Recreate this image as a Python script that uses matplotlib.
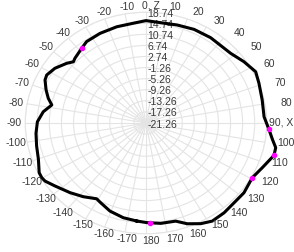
import numpy as np
import matplotlib
matplotlib.use("Agg")
import matplotlib.pyplot as plt
from matplotlib import transforms

# pattern data: angle (deg, clockwise from Z) and radius value
angles_deg = [-175.0, -167.6, -159.4, -151.9, -149.2, -142.0, -135.0, -127.0, -122.1,
              -119.8, -116.9, -110.2, -102.9, -95.8, -89.3, -83.2, -78.2, -74.6,
              -70.2, -65.1, -62.2, -56.8, -50.6, -47.4, -45.2, -38.3, -33.8, -25.2,
              -15.6, -6.7, 0.0, 16.3, 25.2, 34.8, 48.1, 55.7, 63.0, 69.0, 77.8, 86.7,
              93.2, 98.0, 101.7, 105.4, 112.7, 119.3, 127.8, 133.5, 141.4, 148.2,
              153.5, 159.4, 164.5, 172.3, 179.6]
values = [14.25, 13.75, 12.7, 11.1, 10.6, 12.5, 14.3, 16.5, 18.2,
          18.5, 18.4, 16.7, 15.9, 15.35, 14.7, 13.0, 10.6, 12.3,
          13.9, 15.6, 15.9, 14.8, 12.7, 11.4, 11.9, 13.1, 14.1, 14.5,
          14.8, 15.0, 15.7, 15.6, 16.1, 16.25, 16.4, 18.0, 19.5, 18.8, 18.1, 17.9,
          19.5, 21.0, 22.6, 22.7, 20.5, 19.1, 19.8, 19.7, 20.2, 20.4,
          19.35, 17.6, 15.5, 15.3, 14.7]

marker_angles = [-38.3, 93.2, 105.4, 119.3, 178.0]
marker_values = [13.1, 19.5, 22.7, 19.1, 14.7]

r_ticks = [-21.26, -17.26, -13.26, -9.26, -5.26, -1.26, 2.74, 6.74, 10.74, 14.74, 18.74]
r_tick_labels = ["-21.26", "-17.26", "-13.26", "-9.26", "-5.26", "-1.26",
                 "2.74", "6.74", "10.74", "14.74", "18.74"]
theta_ticks = list(range(0, 360, 10))
theta_labels = ["0, Z", "10", "20", "30", "40", "50", "60", "70", "80", "90, X",
                "100", "110", "120", "130", "140", "150", "160", "170", "180",
                "-170", "-160", "-150", "-140", "-130", "-120", "-110", "-100", "-90",
                "-80", "-70", "-60", "-50", "-40", "-30", "-20", "-10"]

r_min, r_max = -21.26, 18.74
W, H = 294, 252
font = ["Liberation Sans", "DejaVu Sans"]
txt_col = "#3a3a3a"

fig = plt.figure(figsize=(W / 100, H / 100), dpi=100)
ax = fig.add_axes([0.0857, 0.0722, 0.8218, 0.8794], projection="polar")
ax.set_aspect("auto")
ax.set_theta_zero_location("N")
ax.set_theta_direction(-1)
ax.set_ylim(r_min, r_max)

grid_col = "#e4e4e4"
ax.set_xticks(np.deg2rad(theta_ticks))
ax.set_xticklabels([])
ax.set_yticks(r_ticks)
ax.set_yticklabels([])
ax.tick_params(length=0)
ax.grid(True, color=grid_col, linewidth=0.8)
ax.spines["polar"].set_color(grid_col)
ax.spines["polar"].set_linewidth(0.8)

# angular labels on an ellipse around the plot (figure pixels)
lab_cx, lab_cy, lab_a, lab_b = 151, 123, 137, 118
for t, lab in zip(theta_ticks, theta_labels):
    tr = np.deg2rad(t)
    px = lab_cx + lab_a * np.sin(tr)
    py = lab_cy - lab_b * np.cos(tr)
    ha = "center"
    if lab == "90, X":
        px, ha = W - 1, "right"
    fig.text(px / W, 1 - py / H, lab, ha=ha, va="center", fontsize=7.5,
             color=txt_col, family=font)

off = transforms.offset_copy(ax.transData, fig=fig, x=1.5, y=-1.5, units="dots")
for rv, lab in zip(r_ticks, r_tick_labels):
    ax.text(0, rv, lab, transform=off, ha="left", va="center",
            fontsize=7.5, color=txt_col, family=font, clip_on=False)

th = np.deg2rad(np.array(angles_deg + [angles_deg[0] + 360]))
rr = np.array(values + [values[0]])
ax.plot(th, rr, color="black", linewidth=2.2, clip_on=False, zorder=5)
ax.plot(np.deg2rad(marker_angles), marker_values, linestyle="none", marker="o",
        markersize=3, color="#ff00ff", clip_on=False, zorder=6)

fig.savefig("out.png", dpi=100)
